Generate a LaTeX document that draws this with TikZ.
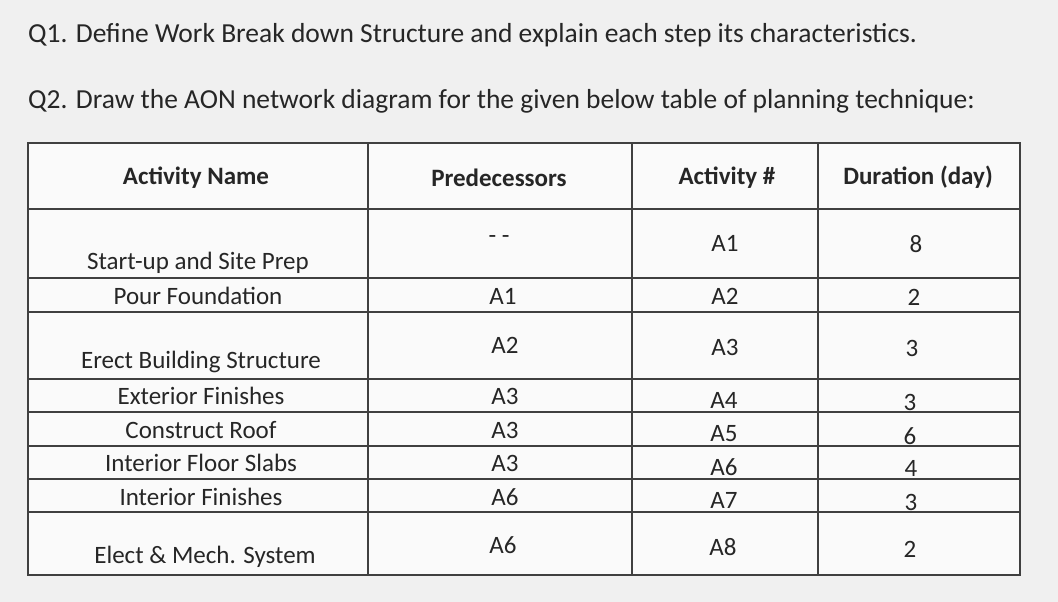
\documentclass[tikz,border=0pt]{standalone}
\usepackage{fontspec}
\setmainfont{Carlito}
\begin{document}
\begin{tikzpicture}[x=1pt,y=-1pt,
  ttl/.style={anchor=west,inner sep=0pt,font=\fontsize{27.5}{30}\selectfont,text=black!85},
  hd/.style={inner sep=0pt,font=\bfseries\fontsize{25}{28}\selectfont,text=black!85},
  cell/.style={inner sep=0pt,font=\fontsize{25}{28}\selectfont,text=black!85},
  grid/.style={draw=black!75,line width=1.2pt}]
\useasboundingbox (0,0) rectangle (1058,602);
\fill[black!6] (0,0) rectangle (1058,602);
\node[ttl] (q1) at (28,35) {Q1. Define Work Break down Structure and explain each step its characteristics.};
\node[ttl] (q2) at (28,101) {Q2. Draw the AON network diagram for the given below table of planning technique:};
\fill[black!2] (28,143) rectangle (1020,575);
\draw[grid] (28,143) rectangle (1020,575);
\foreach \x in {368,632,818} \draw[grid] (\x,143) -- (\x,575);
\foreach \y in {209,278,312,379,412,446,479,512} \draw[grid] (28,\y) -- (1020,\y);
\node[hd] (h1) at (196,178) {Activity Name};
\node[hd] (h2) at (499,178) {Predecessors};
\node[hd] (h3) at (727,178) {Activity \#};
\node[hd] (h4) at (918,177) {Duration (day)};
% column 1
\node[cell] (n1) at (198,263) {Start-up and Site Prep};
\node[cell] (n2) at (198,296) {Pour Foundation};
\node[cell] (n3) at (201,362) {Erect Building Structure};
\node[cell] (n4) at (201,396) {Exterior Finishes};
\node[cell] (n5) at (201,430) {Construct Roof};
\node[cell] (n6) at (201,463) {Interior Floor Slabs};
\node[cell] (n7) at (201,497) {Interior Finishes};
\node[cell] (n8) at (205,557) {Elect \& Mech. System};
% column 2
\node[cell] (p1) at (499,240) {- -};
\node[cell] (p2) at (503,296) {A1};
\node[cell] (p3) at (505,345) {A2};
\node[cell] (p4) at (505,396) {A3};
\node[cell] (p5) at (505,430) {A3};
\node[cell] (p6) at (505,463) {A3};
\node[cell] (p7) at (505,497) {A6};
\node[cell] (p8) at (503,545) {A6};
% column 3
\node[cell] (a1) at (725,243) {A1};
\node[cell] (a2) at (725,296) {A2};
\node[cell] (a3) at (725,347) {A3};
\node[cell] (a4) at (724,400) {A4};
\node[cell] (a5) at (724,434) {A5};
\node[cell] (a6) at (724,467) {A6};
\node[cell] (a7) at (724,500) {A7};
\node[cell] (a8) at (723,547) {A8};
% column 4
\node[cell] (d1) at (916,244) {8};
\node[cell] (d2) at (914,297) {2};
\node[cell] (d3) at (912,348) {3};
\node[cell] (d4) at (910,402) {3};
\node[cell] (d5) at (910,436) {6};
\node[cell] (d6) at (911,468) {4};
\node[cell] (d7) at (911,502) {3};
\node[cell] (d8) at (910,549) {2};
\end{tikzpicture}
\end{document}
